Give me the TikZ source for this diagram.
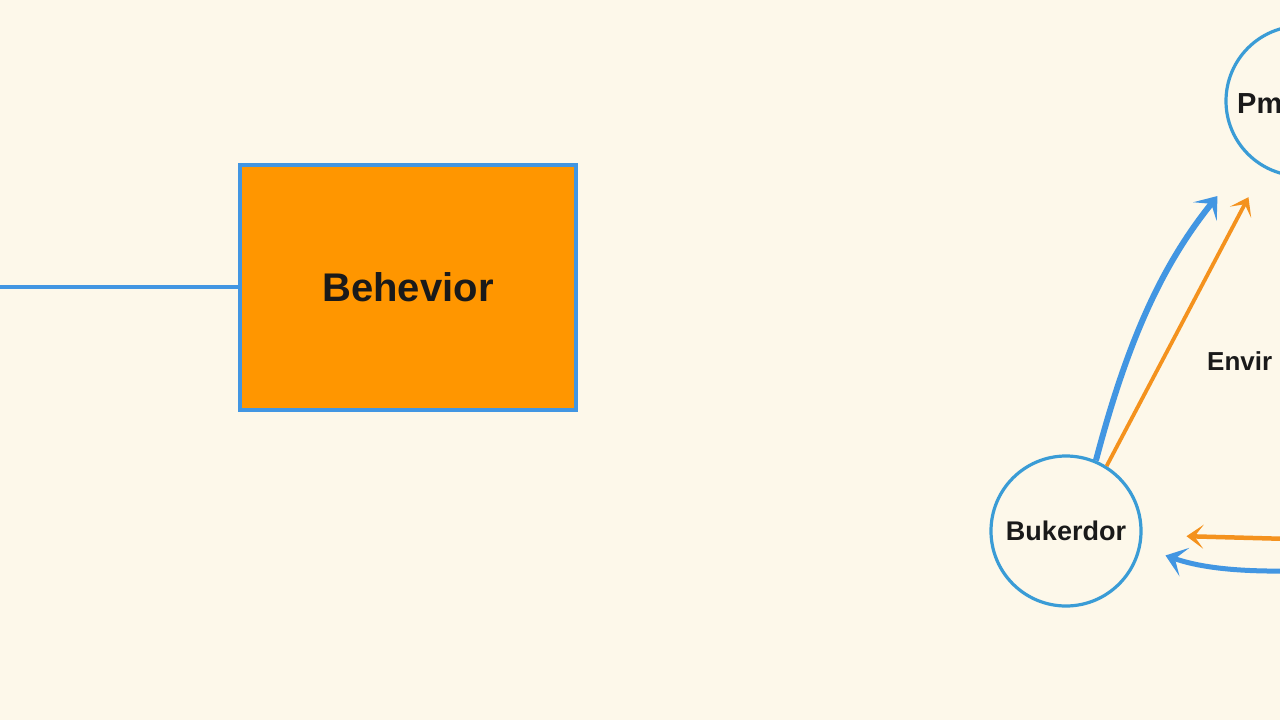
\documentclass[tikz,border=0pt]{standalone}
\usepackage{fontspec}
\setmainfont{Liberation Sans}
\usetikzlibrary{arrows.meta}
\definecolor{bgc}{RGB}{253,248,234}
\definecolor{bluel}{RGB}{66,150,226}
\definecolor{bluec}{RGB}{58,156,214}
\definecolor{orng}{RGB}{255,150,0}
\definecolor{orngl}{RGB}{244,146,30}
\definecolor{txt}{RGB}{26,26,26}
\tikzset{
  boxnode/.style={draw=bluel, line width=4pt, fill=orng, minimum width=336pt, minimum height=245pt, inner sep=0pt, text=txt, font=\bfseries\fontsize{40}{44}\selectfont},
  circnode/.style={circle, draw=bluec, line width=3.2pt, fill=bgc, minimum size=150pt, inner sep=0pt, text=txt, font=\bfseries\fontsize{27}{30}\selectfont},
  lbl/.style={text=txt, font=\bfseries\fontsize{26}{30}\selectfont, anchor=west, inner sep=0pt},
  bluearr/.style={draw=bluel, line width=6pt, -{Stealth[length=20pt,width=30pt,inset=10pt]}},
  orarr/.style={draw=orngl, line width=3.8pt, -{Stealth[length=17pt,width=24pt,inset=9pt]}},
  plainblue/.style={draw=bluel, line width=4pt}
}
\begin{document}
\begin{tikzpicture}[x=1pt,y=-1pt]
\useasboundingbox (0,0) rectangle (1280,720);
\clip (0,0) rectangle (1280,720);
\fill[bgc] (0,0) rectangle (1280,720);

\node[boxnode] (beh) at (408,287.5) {Behevior};
\coordinate (lft) at (-5,287);
\draw[plainblue] (lft) -- (beh.west |- lft);

\node[circnode] (pm) at (1301,101) {};
\node[lbl, font=\bfseries\fontsize{29}{32}\selectfont] (pmt) at (1237,104) {Pm};
\node[circnode] (bk) at (1066,531) {Bukerdor};
\node[lbl] (env) at (1207,361) {Envir};

\draw[bluearr, shorten >=50pt] (bk.67) to[bend left=12] (pm.227);
\draw[orarr, shorten >=33pt] (bk.58) -- (pm.241);

\coordinate (ro) at (1290,539);
\coordinate (rb) at (1290,571);
\draw[orarr, line width=4.5pt, shorten >=44pt] (ro) -- (bk.-3);
\draw[bluearr, line width=5pt, shorten >=26pt] (rb) to[bend left=10] (bk.-12);
\end{tikzpicture}
\end{document}
